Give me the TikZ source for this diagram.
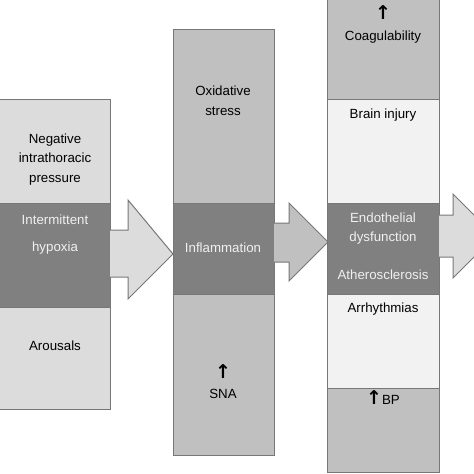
\documentclass[tikz,border=0pt]{standalone}
\usepackage{fontspec}
\setmainfont{Liberation Sans}
\newfontfamily\symfont{DejaVu Sans}
\usetikzlibrary{positioning,calc}
\definecolor{segLight}{HTML}{DCDCDC}
\definecolor{segMid}{HTML}{C0C0C0}
\definecolor{segPale}{HTML}{F2F2F2}
\definecolor{segDark}{HTML}{808080}
\definecolor{segBorder}{HTML}{777777}
\definecolor{txtLight}{HTML}{F0F0F0}
\tikzstyle{seg} = [draw=segBorder, line width=1pt, inner sep=0pt, outer sep=0pt]
\tikzstyle{lbl} = [align=center, inner sep=0pt, font=\fontsize{13.3}{19.5}\selectfont]
\tikzstyle{lbldark} = [lbl, text=txtLight]
\tikzstyle{blockarrow} = [draw=segBorder, line width=1pt, line join=miter]
\newcommand{\upar}{{\symfont\bfseries\fontsize{19}{19}\selectfont ↑}}

\begin{document}
\begin{tikzpicture}[x=1pt, y=-1pt]
\useasboundingbox (0,0) rectangle (474,474);
% first column
\node (neg) [seg, fill=segLight, minimum width=112, minimum height=104] at (54,151) {};
\node (hyp) [seg, fill=segDark, minimum width=112, minimum height=104] at (54,255) {};
\node (aro) [seg, fill=segLight, minimum width=112, minimum height=102] at (54,358) {};
% second column
\node (oxi) [seg, fill=segMid, minimum width=101, minimum height=174] at (223.5,116) {};
\node (inf) [seg, fill=segDark, minimum width=101, minimum height=91] at (223.5,248.5) {};
\node (sna) [seg, fill=segMid, minimum width=101, minimum height=161] at (223.5,374.5) {};
% third column
\node (coa) [seg, fill=segMid, minimum width=112, minimum height=100] at (383,49) {};
\node (bra) [seg, fill=segPale, minimum width=112, minimum height=104] at (383,151) {};
\node (end) [seg, fill=segDark, minimum width=112, minimum height=91] at (383,248.5) {};
\node (arr) [seg, fill=segPale, minimum width=112, minimum height=94] at (383,341) {};
\node (bp) [seg, fill=segMid, minimum width=112, minimum height=84] at (383,430) {};
% block arrows
\draw [blockarrow, fill=segLight] (110,230) -- (128,230) -- (128,200) -- (173,254)
  -- (128,299) -- (128,277) -- (110,277);
\draw [blockarrow, fill=segMid] (274,223) -- (289,223) -- (289,203) -- (328,242)
  -- (289,281) -- (289,262) -- (274,262);
\draw [blockarrow, fill=segLight] (439,215) -- (453,215) -- (453,194) -- (495,236)
  -- (453,278) -- (453,257) -- (439,257);
% labels
\node (tneg) [lbl] at (55,159.5) {Negative\\intrathoracic\\pressure};
\node (thyp) [lbldark] at (55,234.5) {Intermittent\\[7.5pt]hypoxia};
\node (taro) [lbl] at (55,346) {Arousals};
\node (toxi) [lbl] at (223,100.5) {Oxidative\\stress};
\node (tinf) [lbldark] at (223,248) {Inflammation};
\node (usna) [lbl] at (223,372) {\upar};
\node (tsna) [lbl] at (223,394) {SNA};
\node (ucoa) [lbl] at (383,13) {\upar};
\node (tcoa) [lbl] at (383,37) {Coagulability};
\node (tbra) [lbl] at (383,115) {Brain injury};
\node (tend) [lbldark] at (383,228.5) {Endothelial\\dysfunction};
\node (tath) [lbldark] at (383,275) {Atherosclerosis};
\node (tarr) [lbl] at (383,309) {Arrhythmias};
\node (tbp) [lbl] at (383,398) {\upar BP};
\end{tikzpicture}
\end{document}
